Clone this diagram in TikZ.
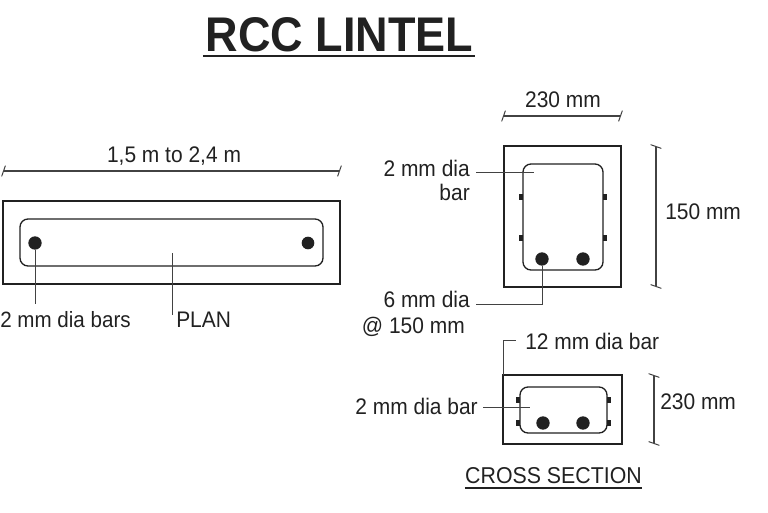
\documentclass[tikz,border=0pt]{standalone}
\usepackage{fontspec}
\setmainfont{Liberation Sans}
\newfontfamily\bodyfont[FakeStretch=0.93]{Liberation Sans}
\newfontfamily\titlefont[FakeStretch=0.925]{Liberation Sans Bold}
\usetikzlibrary{arrows.meta}
\definecolor{inkdark}{gray}{0.13}
\tikzset{
  concrete/.style={rectangle, draw=inkdark, line width=1pt, inner sep=0pt, outer sep=0pt},
  stirrup/.style={rectangle, rounded corners=6pt, draw=inkdark, line width=1pt, inner sep=0pt, outer sep=0pt},
  rebar/.style={circle, fill=inkdark, inner sep=0pt, minimum size=10pt},
  stub/.style={rectangle, fill=inkdark, inner sep=0pt, minimum width=3pt, minimum height=4.5pt},
  leader/.style={draw=inkdark!85, line width=0.7pt},
  dimline/.style={draw=inkdark!85, line width=0.8pt, {Bar[width=8pt,slant=.35]}-{Bar[width=8pt,slant=.35]}},
  lbl/.style={inner sep=0pt, text=inkdark, font=\bodyfont\fontsize{16.9}{18}\selectfont}
}
\begin{document}
\begin{tikzpicture}[x=0.75pt, y=-0.75pt]
  \useasboundingbox (0,0) rectangle (768,512);
  % title
  \node[lbl, font=\titlefont\fontsize{36.5}{40}\selectfont, anchor=base] (title) at (339.5,51) {RCC LINTEL};
  \draw[inkdark, line width=1.1pt] ([shift={(-2pt,-3.75pt)}]title.base west) -- ([shift={(0.8pt,-3.75pt)}]title.base east);

  % plan
  \node[concrete, minimum width=252.75pt, minimum height=62.25pt] (plan) at (171.5,242.5) {};
  \node[stirrup, minimum width=227.25pt, minimum height=35.25pt] (planlink) at (171.5,242.5) {};
  \node[rebar] (barA) at (35,243) {};
  \node[rebar, minimum size=9.5pt] (barB) at (308,243) {};
  \coordinate (spanL) at (3,171);
  \coordinate (spanR) at (340,171);
  \draw[dimline] (spanL) -- (spanR);
  \node[lbl, anchor=base] (spanlbl) at (174,162) {1,5 m to 2,4 m};
  \node[lbl, font=\bodyfont\fontsize{16.6}{18}\selectfont, anchor=base east] (barslbl) at (131,327) {2 mm dia bars};
  \node[lbl, anchor=base west] (planlbl) at (176,327) {PLAN};
  \coordinate (barsend) at (35,304);
  \coordinate (plantop) at (172,253);
  \coordinate (planend) at (172,315);
  \draw[leader] (barA) -- (barsend);
  \draw[leader] (plantop) -- (planend);

  % tall section
  \node[concrete, minimum width=87.75pt, minimum height=105.75pt] (secA) at (562.5,216.5) {};
  \node[stirrup, minimum width=60pt, minimum height=79.5pt] (linkA) at (563,217) {};
  \node[rebar] (barC) at (542,259) {};
  \node[rebar] (barD) at (583,259) {};
  \node[stub] (stubA) at (520.5,197) {};
  \node[stub] (stubB) at (520.5,238) {};
  \node[stub] (stubC) at (604.5,197) {};
  \node[stub] (stubD) at (604.5,238) {};
  \coordinate (wAL) at (503,116);
  \coordinate (wAR) at (621,116);
  \coordinate (hAT) at (656,146);
  \coordinate (hAB) at (656,287);
  \draw[dimline] (wAL) -- (wAR);
  \draw[dimline] (hAT) -- (hAB);
  \node[lbl, anchor=base] (wAlbl) at (563,107) {230 mm};
  \node[lbl, anchor=base west] (hAlbl) at (665,219) {150 mm};
  \node[lbl, anchor=base east] (diaA) at (470,176) {2 mm dia};
  \node[lbl, anchor=base east] (diaB) at (470,200) {bar};
  \node[lbl, anchor=base east] (diaC) at (470,307) {6 mm dia};
  \node[lbl, anchor=base east] (diaD) at (465,333) {@ 150 mm};
  \coordinate (diaAfrom) at (476,172);
  \coordinate (diaAto) at (534,172);
  \coordinate (diaCfrom) at (476,304);
  \draw[leader] (diaAfrom) -- (diaAto);
  \draw[leader] (diaCfrom) -| (barC);

  % wide section
  \node[concrete, minimum width=89.25pt, minimum height=51.75pt] (secB) at (562.5,409.5) {};
  \node[stirrup, minimum width=65.25pt, minimum height=34.5pt] (linkB) at (563.5,410) {};
  \node[rebar] (barE) at (543,423) {};
  \node[rebar] (barF) at (583,423) {};
  \node[stub] (stubE) at (518,400) {};
  \node[stub] (stubF) at (518,423) {};
  \node[stub] (stubG) at (609,400) {};
  \node[stub] (stubH) at (609,423) {};
  \coordinate (hBT) at (654,375);
  \coordinate (hBB) at (654,444);
  \draw[dimline] (hBT) -- (hBB);
  \node[lbl, anchor=base west] (hBlbl) at (660,409) {230 mm};
  \node[lbl, anchor=base east] (diaE) at (478,414) {2 mm dia bar};
  \node[lbl, anchor=base west] (diaF) at (525,349) {12 mm dia bar};
  \coordinate (diaEfrom) at (483,407);
  \coordinate (diaEto) at (530,407);
  \coordinate (diaFbend) at (503,340);
  \coordinate (diaFend) at (516,340);
  \draw[leader] (diaEfrom) -- (diaEto);
  \draw[leader] (secB.north west) -- (diaFbend) -- (diaFend);
  \node[lbl, font=\bodyfont\fontsize{17.2}{18}\selectfont, anchor=base] (crosslbl) at (553.5,483) {CROSS SECTION};
  \draw[inkdark, line width=0.9pt] ([yshift=-3.75pt]crosslbl.base west) -- ([yshift=-3.75pt]crosslbl.base east);
\end{tikzpicture}
\end{document}
